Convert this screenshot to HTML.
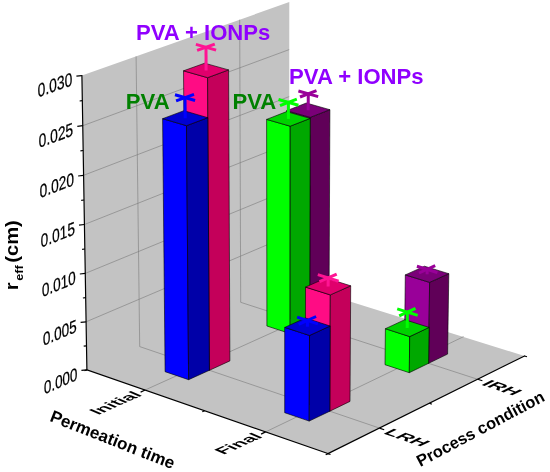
<!DOCTYPE html>
<html><head><meta charset="utf-8"><title>3D bar chart</title>
<style>
html,body{margin:0;padding:0;background:#fff;}
svg{display:block;font-family:"Liberation Sans",sans-serif;}
</style></head><body>
<svg width="550" height="472" viewBox="0 0 550 472">
<rect width="550" height="472" fill="#fff"/>
<polygon points="86.9,369.8 81.9,75.6 289.3,2.1 289.1,282.4 524.5,356.0 328.0,453.6" fill="#c3c3c3"/>
<line x1="86.1" y1="321.8" x2="289.1" y2="235.5" stroke="#7a7a7a" stroke-width="0.6"/>
<line x1="85.3" y1="273.4" x2="289.1" y2="189.6" stroke="#7a7a7a" stroke-width="0.6"/>
<line x1="84.4" y1="224.5" x2="289.2" y2="143.3" stroke="#7a7a7a" stroke-width="0.6"/>
<line x1="83.6" y1="175.3" x2="289.2" y2="96.6" stroke="#7a7a7a" stroke-width="0.6"/>
<line x1="82.8" y1="125.7" x2="289.2" y2="49.6" stroke="#7a7a7a" stroke-width="0.6"/>
<line x1="139.7" y1="346.6" x2="136.1" y2="56.4" stroke="#7a7a7a" stroke-width="0.6"/>
<line x1="139.7" y1="346.6" x2="379.5" y2="428.1" stroke="#7a7a7a" stroke-width="0.6"/>
<line x1="240.7" y1="302.3" x2="239.7" y2="19.7" stroke="#7a7a7a" stroke-width="0.6"/>
<line x1="240.7" y1="302.3" x2="477.7" y2="379.3" stroke="#7a7a7a" stroke-width="0.6"/>
<line x1="145.1" y1="390.0" x2="346.1" y2="299.2" stroke="#7a7a7a" stroke-width="0.6"/>
<line x1="265.6" y1="431.9" x2="463.7" y2="336.6" stroke="#7a7a7a" stroke-width="0.6"/>
<polygon points="286.5,317.1 309.7,324.7 310.2,117.4 286.6,110.7" fill="#990099" stroke="#000" stroke-width="0.6" stroke-linejoin="round"/>
<polygon points="309.7,324.7 329.0,315.9 329.9,109.7 310.2,117.4" fill="#600058" stroke="#000" stroke-width="0.6" stroke-linejoin="round"/>
<polygon points="286.6,110.7 310.2,117.4 329.9,109.7 306.3,103.0" fill="#7a0078" stroke="#000" stroke-width="0.6" stroke-linejoin="round"/>
<line x1="308.2" y1="110.2" x2="308.3" y2="93.8" stroke="#990099" stroke-width="3.0"/>
<line x1="298.4" y1="91.0" x2="318.2" y2="96.6" stroke="#990099" stroke-width="3.0"/>
<line x1="300.0" y1="97.0" x2="316.5" y2="90.6" stroke="#990099" stroke-width="3.0"/>
<polygon points="266.9,326.0 290.1,333.6 290.2,126.2 266.6,119.4" fill="#00ff00" stroke="#000" stroke-width="0.6" stroke-linejoin="round"/>
<polygon points="290.1,333.6 309.7,324.7 310.2,118.4 290.2,126.2" fill="#00a800" stroke="#000" stroke-width="0.6" stroke-linejoin="round"/>
<polygon points="266.6,119.4 290.2,126.2 310.2,118.4 286.6,111.6" fill="#00d200" stroke="#000" stroke-width="0.6" stroke-linejoin="round"/>
<line x1="288.4" y1="118.9" x2="288.4" y2="102.4" stroke="#00ff00" stroke-width="3.0"/>
<line x1="278.5" y1="99.5" x2="298.4" y2="105.2" stroke="#00ff00" stroke-width="3.0"/>
<line x1="280.0" y1="105.6" x2="296.8" y2="99.1" stroke="#00ff00" stroke-width="3.0"/>
<polygon points="186.0,362.3 209.4,370.3 207.6,77.7 183.5,70.8" fill="#ff0c84" stroke="#000" stroke-width="0.6" stroke-linejoin="round"/>
<polygon points="209.4,370.3 229.9,360.9 228.6,69.9 207.6,77.7" fill="#c4005a" stroke="#000" stroke-width="0.6" stroke-linejoin="round"/>
<polygon points="183.5,70.8 207.6,77.7 228.6,69.9 204.7,63.2" fill="#e0006c" stroke="#000" stroke-width="0.6" stroke-linejoin="round"/>
<line x1="206.1" y1="70.4" x2="206.0" y2="47.2" stroke="#ff1493" stroke-width="3.0"/>
<line x1="195.9" y1="44.4" x2="216.1" y2="50.1" stroke="#ff1493" stroke-width="3.0"/>
<line x1="197.1" y1="50.4" x2="214.8" y2="44.1" stroke="#ff1493" stroke-width="3.0"/>
<polygon points="165.1,371.7 188.6,379.7 186.5,125.7 162.6,118.7" fill="#0000ff" stroke="#000" stroke-width="0.6" stroke-linejoin="round"/>
<polygon points="188.6,379.7 209.4,370.3 207.8,117.7 186.5,125.7" fill="#0000a8" stroke="#000" stroke-width="0.6" stroke-linejoin="round"/>
<polygon points="162.6,118.7 186.5,125.7 207.8,117.7 183.9,110.7" fill="#0000d2" stroke="#000" stroke-width="0.6" stroke-linejoin="round"/>
<line x1="185.2" y1="118.2" x2="185.0" y2="97.6" stroke="#0000ff" stroke-width="3.0"/>
<line x1="175.0" y1="94.7" x2="195.1" y2="100.5" stroke="#0000ff" stroke-width="3.0"/>
<line x1="176.1" y1="100.9" x2="194.0" y2="94.3" stroke="#0000ff" stroke-width="3.0"/>
<polygon points="404.4,355.5 428.6,363.3 429.6,282.4 405.3,274.9" fill="#990099" stroke="#000" stroke-width="0.6" stroke-linejoin="round"/>
<polygon points="428.6,363.3 447.6,354.1 448.8,273.7 429.6,282.4" fill="#600058" stroke="#000" stroke-width="0.6" stroke-linejoin="round"/>
<polygon points="405.3,274.9 429.6,282.4 448.8,273.7 424.5,266.2" fill="#7a0078" stroke="#000" stroke-width="0.6" stroke-linejoin="round"/>
<line x1="427.1" y1="274.3" x2="427.1" y2="269.3" stroke="#990099" stroke-width="3.0"/>
<line x1="416.9" y1="266.2" x2="437.4" y2="272.5" stroke="#990099" stroke-width="3.0"/>
<line x1="419.0" y1="273.0" x2="435.2" y2="265.6" stroke="#990099" stroke-width="3.0"/>
<polygon points="385.0,364.7 409.3,372.7 409.7,336.6 385.4,328.7" fill="#00ff00" stroke="#000" stroke-width="0.6" stroke-linejoin="round"/>
<polygon points="409.3,372.7 428.6,363.3 429.1,327.4 409.7,336.6" fill="#00a800" stroke="#000" stroke-width="0.6" stroke-linejoin="round"/>
<polygon points="385.4,328.7 409.7,336.6 429.1,327.4 404.8,319.7" fill="#00d200" stroke="#000" stroke-width="0.6" stroke-linejoin="round"/>
<line x1="407.2" y1="328.1" x2="407.4" y2="312.1" stroke="#00ff00" stroke-width="3.0"/>
<line x1="397.2" y1="308.9" x2="417.7" y2="315.4" stroke="#00ff00" stroke-width="3.0"/>
<line x1="399.2" y1="315.9" x2="415.5" y2="308.3" stroke="#00ff00" stroke-width="3.0"/>
<polygon points="305.3,402.8 329.8,411.2 330.3,294.9 305.5,287.1" fill="#ff0c84" stroke="#000" stroke-width="0.6" stroke-linejoin="round"/>
<polygon points="329.8,411.2 350.0,401.4 350.7,285.8 330.3,294.9" fill="#c4005a" stroke="#000" stroke-width="0.6" stroke-linejoin="round"/>
<polygon points="305.5,287.1 330.3,294.9 350.7,285.8 326.0,278.0" fill="#e0006c" stroke="#000" stroke-width="0.6" stroke-linejoin="round"/>
<line x1="328.1" y1="286.4" x2="328.2" y2="277.9" stroke="#ff1493" stroke-width="3.0"/>
<line x1="317.8" y1="274.6" x2="338.6" y2="281.2" stroke="#ff1493" stroke-width="3.0"/>
<line x1="319.5" y1="281.7" x2="336.7" y2="274.1" stroke="#ff1493" stroke-width="3.0"/>
<polygon points="284.7,412.7 309.2,421.1 309.5,335.5 284.7,327.4" fill="#0000ff" stroke="#000" stroke-width="0.6" stroke-linejoin="round"/>
<polygon points="309.2,421.1 329.8,411.2 330.1,326.0 309.5,335.5" fill="#0000a8" stroke="#000" stroke-width="0.6" stroke-linejoin="round"/>
<polygon points="284.7,327.4 309.5,335.5 330.1,326.0 305.4,318.0" fill="#0000d2" stroke="#000" stroke-width="0.6" stroke-linejoin="round"/>
<line x1="307.4" y1="326.7" x2="307.4" y2="320.5" stroke="#0000ff" stroke-width="3.0"/>
<line x1="297.1" y1="317.1" x2="317.9" y2="323.9" stroke="#0000ff" stroke-width="3.0"/>
<line x1="298.7" y1="324.4" x2="316.1" y2="316.5" stroke="#0000ff" stroke-width="3.0"/>
<line x1="86.9" y1="369.8" x2="81.9" y2="75.6" stroke="#000" stroke-width="1.2" stroke-linecap="square"/>
<line x1="86.9" y1="369.8" x2="328.0" y2="453.6" stroke="#000" stroke-width="1.2" stroke-linecap="square"/>
<line x1="328.0" y1="453.6" x2="524.5" y2="356.0" stroke="#000" stroke-width="1.2" stroke-linecap="square"/>
<line x1="86.9" y1="369.8" x2="81.4" y2="370.4" stroke="#000" stroke-width="1.2"/>
<line x1="86.5" y1="345.8" x2="83.7" y2="346.2" stroke="#000" stroke-width="1.2"/>
<line x1="86.1" y1="321.8" x2="80.6" y2="322.4" stroke="#000" stroke-width="1.2"/>
<line x1="85.7" y1="297.6" x2="82.9" y2="298.0" stroke="#000" stroke-width="1.2"/>
<line x1="85.3" y1="273.4" x2="79.8" y2="274.0" stroke="#000" stroke-width="1.2"/>
<line x1="84.9" y1="249.0" x2="82.1" y2="249.3" stroke="#000" stroke-width="1.2"/>
<line x1="84.4" y1="224.5" x2="79.0" y2="225.2" stroke="#000" stroke-width="1.2"/>
<line x1="84.0" y1="200.0" x2="81.2" y2="200.3" stroke="#000" stroke-width="1.2"/>
<line x1="83.6" y1="175.3" x2="78.1" y2="176.0" stroke="#000" stroke-width="1.2"/>
<line x1="83.2" y1="150.5" x2="80.4" y2="150.9" stroke="#000" stroke-width="1.2"/>
<line x1="82.8" y1="125.7" x2="77.3" y2="126.3" stroke="#000" stroke-width="1.2"/>
<line x1="82.3" y1="100.7" x2="79.6" y2="101.0" stroke="#000" stroke-width="1.2"/>
<line x1="81.9" y1="75.6" x2="76.4" y2="76.2" stroke="#000" stroke-width="1.2"/>
<line x1="86.9" y1="369.8" x2="84.5" y2="370.8" stroke="#000" stroke-width="1.2"/>
<line x1="145.1" y1="390.0" x2="140.6" y2="392.1" stroke="#000" stroke-width="1.2"/>
<line x1="204.7" y1="410.7" x2="202.3" y2="411.8" stroke="#000" stroke-width="1.2"/>
<line x1="265.6" y1="431.9" x2="261.1" y2="434.1" stroke="#000" stroke-width="1.2"/>
<line x1="328.0" y1="453.6" x2="325.7" y2="454.8" stroke="#000" stroke-width="1.2"/>
<line x1="328.0" y1="453.6" x2="330.5" y2="454.5" stroke="#000" stroke-width="1.2"/>
<line x1="379.5" y1="428.1" x2="384.2" y2="429.7" stroke="#000" stroke-width="1.2"/>
<line x1="429.3" y1="403.3" x2="431.8" y2="404.1" stroke="#000" stroke-width="1.2"/>
<line x1="477.7" y1="379.3" x2="482.4" y2="380.8" stroke="#000" stroke-width="1.2"/>
<line x1="524.5" y1="356.0" x2="527.0" y2="356.8" stroke="#000" stroke-width="1.2"/>
<text transform="matrix(0.7273,-0.3191,0.0165,0.9723,86.91,369.77)" x="-13" y="6" font-size="18.5" text-anchor="end" font-weight="normal" fill="#000" stroke="#000" stroke-width="0.25">0.000</text>
<text transform="matrix(0.7305,-0.3104,0.0167,0.9804,86.09,321.77)" x="-13" y="6" font-size="18.5" text-anchor="end" font-weight="normal" fill="#000" stroke="#000" stroke-width="0.25">0.005</text>
<text transform="matrix(0.7337,-0.3016,0.0168,0.9887,85.27,273.36)" x="-13" y="6" font-size="18.5" text-anchor="end" font-weight="normal" fill="#000" stroke="#000" stroke-width="0.25">0.010</text>
<text transform="matrix(0.7370,-0.2926,0.0169,0.9971,84.44,224.54)" x="-13" y="6" font-size="18.5" text-anchor="end" font-weight="normal" fill="#000" stroke="#000" stroke-width="0.25">0.015</text>
<text transform="matrix(0.7403,-0.2834,0.0171,1.0056,83.60,175.31)" x="-13" y="6" font-size="18.5" text-anchor="end" font-weight="normal" fill="#000" stroke="#000" stroke-width="0.25">0.020</text>
<text transform="matrix(0.7436,-0.2741,0.0172,1.0142,82.76,125.66)" x="-13" y="6" font-size="18.5" text-anchor="end" font-weight="normal" fill="#000" stroke="#000" stroke-width="0.25">0.025</text>
<text transform="matrix(0.7470,-0.2646,0.0174,1.0229,81.91,75.58)" x="-13" y="6" font-size="18.5" text-anchor="end" font-weight="normal" fill="#000" stroke="#000" stroke-width="0.25">0.030</text>
<text transform="matrix(0.8587,-0.3823,0.7596,0.3220,145.13,390.02)" x="-8" y="6.2" font-size="20" text-anchor="end" font-weight="bold" fill="#000">Initial</text>
<text transform="matrix(0.8587,-0.3823,0.7596,0.3220,265.63,431.93)" x="-8" y="6.2" font-size="20" text-anchor="end" font-weight="bold" fill="#000">Final</text>
<text transform="matrix(0.9550,0.3288,-0.7354,0.3513,379.46,428.06)" x="8.5" y="7" font-size="20" text-anchor="start" font-weight="bold" fill="#000">LRH</text>
<text transform="matrix(0.9550,0.3288,-0.7354,0.3513,477.66,379.27)" x="8.5" y="7" font-size="20" text-anchor="start" font-weight="bold" fill="#000">IRH</text>
<text transform="translate(110.5,445) rotate(21.5)" font-size="17" text-anchor="middle" font-weight="bold">Permeation time</text>
<text transform="translate(483,433.7) rotate(-28)" font-size="16.4" text-anchor="middle" font-weight="bold">Process condition</text>
<g transform="translate(18.1,290.3) rotate(-90) scale(1.12,1)" font-weight="bold" font-size="18"><text x="0" y="0">r</text><text x="8.6" y="4.4" font-size="11.2">eff</text><text x="24.6" y="0">(cm)</text></g>
<text x="135.9" y="40" font-size="22.1" font-weight="bold" fill="#9000ff">PVA + IONPs</text>
<text x="125.8" y="109.4" font-size="22.1" font-weight="bold" fill="#008000">PVA</text>
<text x="232.4" y="109.4" font-size="22.1" font-weight="bold" fill="#008000">PVA</text>
<text x="289.1" y="84.4" font-size="22.1" font-weight="bold" fill="#9000ff">PVA + IONPs</text>
</svg>
</body></html>
